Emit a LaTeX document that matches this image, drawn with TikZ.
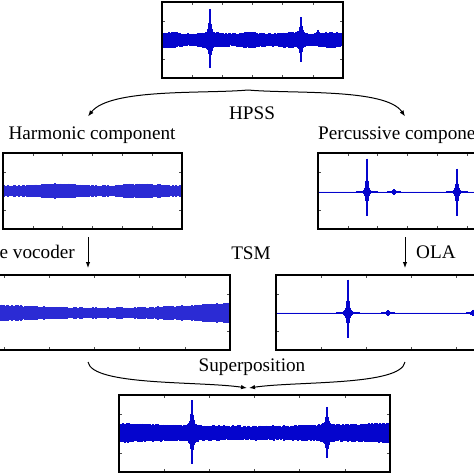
\documentclass[tikz,border=0pt]{standalone}
\usepackage{fontspec}
\setmainfont{Liberation Serif}
\usetikzlibrary{calc,arrows.meta}
\definecolor{wave}{RGB}{5,5,205}
\begin{document}
\begin{tikzpicture}[x=1pt,y=-1pt,
    plot/.style={draw,line width=1.6pt,inner sep=0pt,outer sep=0pt},
    lbl/.style={inner sep=0pt,font=\fontsize{19.2}{22}\selectfont},
    arr/.style={-{Latex[length=6pt,width=4.5pt]},line width=1pt},
    tick/.style={line width=0.5pt,black!70},
    sig/.style={wave,line width=1.1pt}]
    \clip (0,0) rectangle (474,474);
    \pgfmathsetseed{11}
    % plot frames
    \node[plot,minimum width=181pt,minimum height=76pt] (mix) at (252.5,40) {};
    \node[plot,minimum width=179pt,minimum height=76pt] (harm) at (92.5,191) {};
    \node[plot,minimum width=179pt,minimum height=76pt] (perc) at (407.5,191) {};
    \node[plot,minimum width=271pt,minimum height=75pt] (harmtsm) at (94.5,312.5) {};
    \node[plot,minimum width=271pt,minimum height=75pt] (perctsm) at (411.5,312.5) {};
    \node[plot,minimum width=271pt,minimum height=77pt] (out) at (254.5,433.5) {};
    % labels
    \node[lbl] (hpsslbl) at (252,113) {HPSS};
    \node[lbl] (harmlbl) at (92,135) {Harmonic component};
    \node[lbl,anchor=west] (perclbl) at (318,135) {Percussive component};
    \node[lbl,anchor=east] (pvlbl) at (75,252) {Phase vocoder};
    \node[lbl] (tsmlbl) at (251,253) {TSM};
    \node[lbl,anchor=west] (olalbl) at (416,252) {OLA};
    \node[lbl] (suplbl) at (252,367) {Superposition};
    % signals
    \foreach \x in {164,...,341}{
        \pgfmathsetmacro\up{6+1.5*rnd+0.8*sin(\x*9)+24*exp(-abs(\x-210))+16*exp(-abs(\x-301)/1.2)+3*exp(-abs(\x-318)/1.5)}
        \pgfmathsetmacro\dn{6+1.5*rnd+0.8*sin(\x*9)+20*exp(-abs(\x-210))+15*exp(-abs(\x-301))}
        \draw[sig] (\x,40-\up) -- (\x,40+\dn);
    }
    \foreach \x in {4,...,181}{
        \pgfmathsetmacro\up{5.5+0.9*sin((\x-40)*4.5)+1.2*rnd}
        \draw[sig,wave!85] (\x,191-\up) -- (\x,191+\up);
    }
    \foreach \x in {319,...,474}{
        \pgfmathsetmacro\up{0.4+30*exp(-abs(\x-367)/0.8)+3*exp(-abs(\x-367)/3)+2.5*exp(-abs(\x-394)/2)+20*exp(-abs(\x-457)/0.8)+3*exp(-abs(\x-457)/3)}
        \pgfmathsetmacro\dn{0.4+21*exp(-abs(\x-367)/0.8)+3*exp(-abs(\x-367)/3)+2.5*exp(-abs(\x-394)/2)+21*exp(-abs(\x-457)/0.8)+3*exp(-abs(\x-457)/3)}
        \draw[sig] (\x,192-\up) -- (\x,192+\dn);
    }
    \foreach \x in {0,...,229}{
        \pgfmathsetmacro\up{4.5+(0.0173*(\x-100))^2+1.2*rnd}
        \draw[sig,wave!85] (\x,313-\up) -- (\x,313+\up);
    }
    \foreach \x in {277,...,474}{
        \pgfmathsetmacro\up{0.4+28*exp(-abs(\x-348)/0.8)+5*exp(-abs(\x-348)/3)+2.5*exp(-abs(\x-388)/2)+3*exp(-abs(\x-473)/2)}
        \pgfmathsetmacro\dn{0.4+20*exp(-abs(\x-348)/0.8)+5*exp(-abs(\x-348)/3)+2.5*exp(-abs(\x-388)/2)+3*exp(-abs(\x-473)/2)}
        \draw[sig] (\x,313-\up) -- (\x,313+\dn);
    }
    \foreach \x in {121,...,389}{
        \pgfmathsetmacro\up{6+(0.0122*(\x-250))^2+1.6*rnd+22*exp(-abs(\x-192))+4*exp(-abs(\x-192)/3)+14*exp(-abs(\x-327))+4*exp(-abs(\x-327)/3)}
        \pgfmathsetmacro\dn{6+(0.0122*(\x-250))^2+1.6*rnd+19*exp(-abs(\x-192))+4*exp(-abs(\x-192)/3)+13*exp(-abs(\x-327))+4*exp(-abs(\x-327)/3)}
        \draw[sig] (\x,433-\up) -- (\x,433+\dn);
    }
    % ticks and frames on top
    \foreach \b in {mix,harm,perc,harmtsm,perctsm,out}{
        \foreach \f in {1,...,5}{
            \draw[tick] ($(\b.north west)!\f/6!(\b.north east)$) -- ++(0,3);
            \draw[tick] ($(\b.south west)!\f/6!(\b.south east)$) -- ++(0,-3);
        }
        \foreach \f in {1,3}{
            \draw[tick] ($(\b.north west)!\f/4!(\b.south west)$) -- ++(3,0);
            \draw[tick] ($(\b.north east)!\f/4!(\b.south east)$) -- ++(-3,0);
        }
        \draw[line width=1.6pt] (\b.north west) rectangle (\b.south east);
    }
    % connectors
    \coordinate (lcol) at (88,0);
    \coordinate (rcol) at (405,0);
    \coordinate (split) at (248,90);
    \coordinate (sum) at (248,388);
    \draw[arr] (split) .. controls (205,94) and (110,88) .. ([yshift=10pt]harmlbl.north -| lcol);
    \draw[arr] (split) .. controls (291,94) and (386,88) .. ([yshift=10pt]perclbl.north -| rcol);
    \draw[arr,shorten <=8pt,shorten >=7pt] (harm.south -| lcol) -- (harmtsm.north -| lcol);
    \draw[arr,shorten <=8pt,shorten >=7pt] (perc.south -| rcol) -- (perctsm.north -| rcol);
    \draw[arr] ([yshift=-12pt]harmtsm.south -| lcol) .. controls (92,386) and (200,381) .. ([xshift=-1pt]sum);
    \draw[arr] ([yshift=-12pt]perctsm.south -| rcol) .. controls (401,386) and (296,381) .. ([xshift=1pt]sum);
\end{tikzpicture}
\end{document}
